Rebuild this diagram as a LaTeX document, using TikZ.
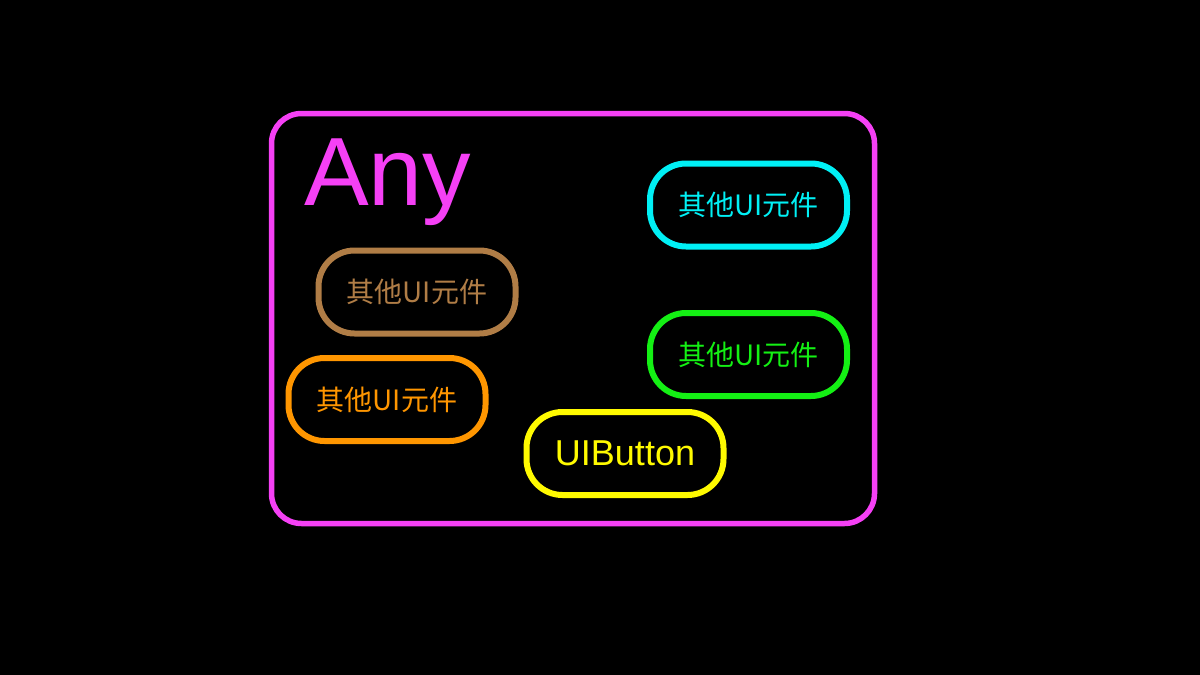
\documentclass[tikz,border=0pt]{standalone}
\usepackage{fontspec}
\setmainfont{Liberation Sans}
\newfontfamily\cjk{Noto Sans CJK SC}
\definecolor{anymag}{RGB}{245,64,245}
\definecolor{uicyan}{RGB}{0,240,245}
\definecolor{uibrown}{RGB}{176,125,70}
\definecolor{uigreen}{RGB}{20,240,20}
\definecolor{uiorange}{RGB}{255,150,0}
\definecolor{uiyellow}{RGB}{255,250,0}
\tikzset{
	uibox/.style={draw=#1,text=#1,line width=6pt,rounded corners=36pt,
		minimum width=197pt,minimum height=83pt,inner sep=0pt,
		font=\cjk\fontsize{28}{30}\selectfont},
	frame/.style={draw=anymag,line width=5.5pt,rounded corners=30pt,
		minimum width=603pt,minimum height=410pt,inner sep=0pt}
}
\begin{document}
\begin{tikzpicture}[x=1pt,y=-1pt]
	\fill[black] (0,0) rectangle (1200,675);
	\node[frame] (any) at (573,318.5) {};
	\node[anchor=base west,inner sep=0pt,text=anymag,font=\fontsize{97}{100}\selectfont] (anytitle) at (304,205) {Any};
	\node[uibox=uicyan] (ui1) at (748.5,205) {其他UI元件};
	\node[uibox=uibrown] (ui2) at (417,292) {其他UI元件};
	\node[uibox=uigreen] (ui3) at (748.5,354.5) {其他UI元件};
	\node[uibox=uiorange] (ui4) at (387,399.5) {其他UI元件};
	\node[uibox=uiyellow,font=\fontsize{36}{38}\selectfont] (button) at (625,453.5) {UIButton};
\end{tikzpicture}
\end{document}
